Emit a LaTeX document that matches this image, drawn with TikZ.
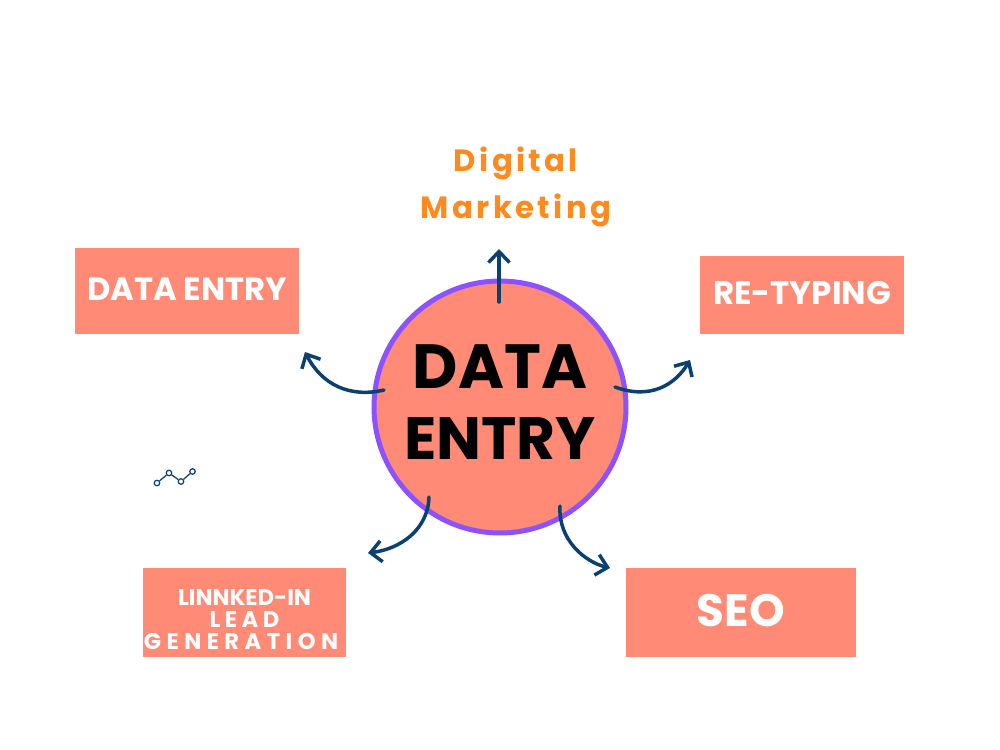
\documentclass[tikz,border=0pt]{standalone}
\usepackage{fontspec}
\setmainfont{Poppins}
\newfontfamily\wideA[LetterSpace=24]{Poppins}
\newfontfamily\wideB[LetterSpace=11]{Poppins}
\newfontfamily\wideC[LetterSpace=20]{Poppins}
\usetikzlibrary{arrows.meta}

\begin{document}
\begin{tikzpicture}[x=.02cm,y=-.02cm]
\definecolor{salmon}{HTML}{FF8A75}
\definecolor{ringpurple}{HTML}{8C52FF}
\definecolor{arrownavy}{HTML}{0B4170}
\definecolor{titleorange}{HTML}{FF8A1E}
\tikzstyle{box}=[fill=salmon,text=white,inner sep=0pt,align=center,text depth=2pt]
\tikzstyle{curved}=[line width=.7mm,color=arrownavy,-{Straight Barb[length=2.2mm,width=4.2mm]},line cap=round]
\tikzstyle{dot}=[circle,draw=arrownavy,fill=white,line width=.25mm,inner sep=0pt,minimum size=.11cm]

\useasboundingbox (0,0) rectangle (1000,750);

%centre circle
\node[circle,fill=salmon,draw=ringpurple,line width=1mm,minimum size=5.04cm,inner sep=0pt] (hub) at (500,407) {};
\node[align=center,inner sep=0pt,font=\fontsize{35.5}{40.5}\selectfont\bfseries] (hubtext) at (500,402.5)
  {DATA\\{\fontsize{34}{40.5}\selectfont ENTRY}};

%boxes
\node[box,minimum width=4.48cm,minimum height=1.72cm,font=\fontsize{18.3}{21}\selectfont\bfseries] (entry) at (187,291) {DATA ENTRY};
\node[box,minimum width=4.08cm,minimum height=1.56cm,font=\fontsize{18.5}{21}\selectfont\bfseries] (typing) at (802,295) {RE-TYPING};
\node[box,minimum width=4.06cm,minimum height=1.78cm,text depth=0pt,text height=42pt,font=\fontsize{12.9}{12.5}\selectfont\bfseries] (lead) at (244.5,612.5)
  {LINNKED-IN\\{\wideC\bfseries LEAD}\hspace*{4pt}\\{\wideA\bfseries GENERATION}\hspace*{4pt}};
\node[box,minimum width=4.6cm,minimum height=1.78cm,font=\fontsize{25.8}{28}\selectfont\bfseries] (seo) at (741,612.5) {SEO};

%title on top
\node[text=titleorange,align=center,font=\fontsize{17.5}{26.7}\selectfont\wideB\bfseries] (title) at (516,187) {Digital\\Marketing};

%arrow ends
\coordinate (upstart) at (499,302);
\coordinate (upend) at (499,249);
\coordinate (leftstart) at (384,390);
\coordinate (leftend) at (305,352);
\coordinate (rightstart) at (615,387);
\coordinate (rightend) at (690,360);
\coordinate (lowleftstart) at (429,497);
\coordinate (lowleftend) at (368,553);
\coordinate (lowrightstart) at (560,506);
\coordinate (lowrightend) at (610,568);

\draw[curved] (upstart) -- (upend);
\draw[curved] (leftstart) .. controls (350,398) and (322,385) .. (leftend);
\draw[curved] (rightstart) .. controls (650,400) and (675,385) .. (rightend);
\draw[curved] (lowleftstart) .. controls (428,530) and (400,549) .. (lowleftend);
\draw[curved] (lowrightstart) .. controls (558,540) and (585,562) .. (lowrightend);

%small chart
\node[dot] (chartA) at (157,483) {};
\node[dot] (chartB) at (169,473) {};
\node[dot] (chartC) at (181,481.5) {};
\node[dot] (chartD) at (192.5,471.5) {};
\draw[color=arrownavy,line width=.25mm] (chartA) -- (chartB);
\draw[color=arrownavy,line width=.25mm] (chartB) -- (chartC);
\draw[color=arrownavy,line width=.25mm] (chartC) -- (chartD);

\end{tikzpicture}
\end{document}
